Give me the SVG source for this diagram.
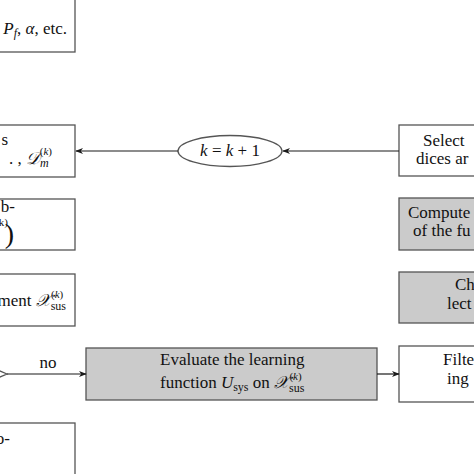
<svg xmlns="http://www.w3.org/2000/svg" width="474" height="474" viewBox="0 0 474 474">
<style>
.box{fill:#ffffff;stroke:#555555;stroke-width:1.3}
.gray{fill:#cbcbcb;stroke:#555555;stroke-width:1.3}
text{font-family:"Liberation Serif","DejaVu Serif",serif;font-size:17px;fill:#111111}
.it{font-style:italic}
.sm{font-size:12px}
.sup{font-size:11px}
.edge{stroke:#1a1a1a;stroke-width:1.2;fill:none}
</style>
<defs>
<marker id="arr" viewBox="0 0 10 10" refX="9" refY="5" markerWidth="8" markerHeight="8" orient="auto" markerUnits="userSpaceOnUse">
<path d="M0,1 L10,5 L0,9 L3,5 z" fill="#1a1a1a"/>
</marker>
</defs>
<rect width="474" height="474" fill="#ffffff"/>

<g id="n-params">
<rect class="box" x="-10" y="-10" width="85" height="62"/>
<text x="67" y="34" text-anchor="end"><tspan class="it">P</tspan><tspan class="it sm" dy="3">f</tspan><tspan dy="-3">, </tspan><tspan class="it">α</tspan>, etc.</text>
</g>

<g id="n-doe">
<rect class="box" x="-10" y="125" width="85" height="52"/>
<text x="8" y="145" text-anchor="end">s</text>
<text x="52" y="164" text-anchor="end">. , <tspan class="it">𝒟</tspan><tspan class="it sm" dy="3">m</tspan><tspan class="sup" dx="-9" dy="-12">(<tspan class="it">k</tspan>)</tspan></text>
</g>

<g id="n-surrogate">
<rect class="box" x="-10" y="199" width="85" height="51"/>
<text x="15" y="212" text-anchor="end">b-</text>
<text x="8" y="226" class="sup" text-anchor="end">k)</text>
<text x="14" y="243" text-anchor="end" style="font-size:28px">)</text>
</g>

<g id="n-enrich">
<rect class="box" x="-10" y="274" width="85" height="52"/>
<text x="66" y="306" text-anchor="end">ment <tspan class="it">𝒳</tspan><tspan class="sm" dy="4">sus</tspan><tspan class="sup" dx="-15" dy="-12">(<tspan class="it">k</tspan>)</tspan></text>
</g>

<g id="n-decision">
<polygon class="box" points="7,374 -50,349 -107,374 -50,399"/>
</g>

<g id="n-evaluate">
<rect class="gray" x="86" y="348" width="291" height="52"/>
<text x="160" y="365">Evaluate the learning</text>
<text x="160" y="388">function <tspan class="it">U</tspan><tspan class="sm" dy="3">sys</tspan><tspan dy="-3"> on </tspan><tspan class="it">𝒳</tspan><tspan class="sm" dy="4">sus</tspan><tspan class="sup" dx="-15" dy="-12">(<tspan class="it">k</tspan>)</tspan></text>
</g>

<g id="n-bottom">
<rect class="box" x="-10" y="423" width="85" height="70"/>
<text x="10" y="444" text-anchor="end">o-</text>
</g>

<g id="n-select">
<rect class="box" x="399" y="125" width="90" height="51"/>
<text x="423" y="146">Select</text>
<text x="416" y="164">dices ar</text>
</g>

<g id="n-compute">
<rect class="gray" x="399" y="198" width="90" height="52"/>
<text x="408" y="218">Compute</text>
<text x="413" y="236">of the fu</text>
</g>

<g id="n-check">
<rect class="gray" x="399" y="272" width="90" height="51"/>
<text x="455" y="290">Ch</text>
<text x="447" y="309">lect</text>
</g>

<g id="n-filter">
<rect class="box" x="399" y="346" width="90" height="56"/>
<text x="443" y="365">Filte</text>
<text x="447" y="384">ing</text>
</g>

<g id="n-incr">
<ellipse class="box" cx="230" cy="151" rx="52" ry="15.5"/>
<text x="230" y="156" text-anchor="middle"><tspan class="it">k</tspan> = <tspan class="it">k</tspan> + 1</text>
</g>

<g id="connectors">
<line class="edge" x1="399" y1="151" x2="283" y2="151" marker-end="url(#arr)"/>
<line class="edge" x1="178" y1="151" x2="76" y2="151" marker-end="url(#arr)"/>
<line class="edge" x1="7" y1="374" x2="86" y2="374" marker-end="url(#arr)"/>
<line class="edge" x1="377" y1="374" x2="399" y2="374" marker-end="url(#arr)"/>
<text x="48" y="368" text-anchor="middle">no</text>
</g>
</svg>
